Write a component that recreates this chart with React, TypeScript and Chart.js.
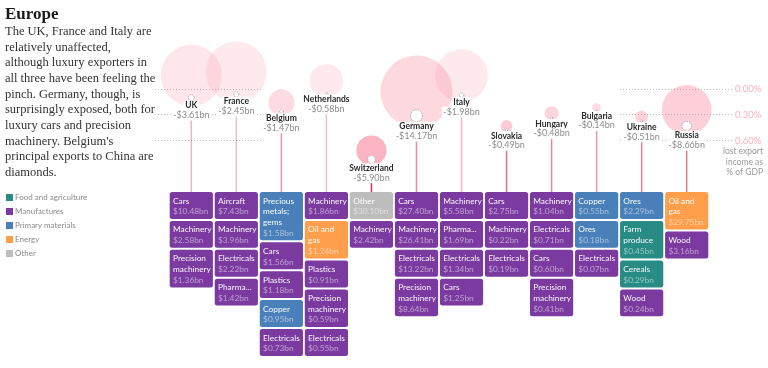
import React, { useEffect, useRef } from "react";
import { Chart, registerables } from "chart.js";

Chart.register(...registerables);

// ---------- data ----------
const countries = ["UK", "France", "Belgium", "Netherlands", "Switzerland", "Germany", "Italy", "Slovakia", "Hungary", "Bulgaria", "Ukraine", "Russia"];
const lostExportBn = [3.61, 2.45, 1.47, 0.58, 5.9, 14.17, 1.98, 0.49, 0.48, 0.14, 0.51, 8.66];
const lostPctOfGdp = [0.1, 0.06, 0.26, 0.05, 0.82, 0.31, 0.07, 0.475, 0.335, 0.25, 0.375, 0.43];
const gdpTn = [2.9, 2.85, 0.53, 0.88, 0.7, 4.0, 2.15, 0.11, 0.15, 0.06, 0.13, 1.9];
const pctTicks = [0, 0.3, 0.6];

const categories = ["Food and agriculture", "Manufactures", "Primary materials", "Energy", "Other"];
const categoryColors = ["#288b84", "#7b3aa0", "#4a80b9", "#ff9f4c", "#bdbdbd"];

const exportLabels = [
  ["Cars", "Machinery", "Precision machinery"],
  ["Aircraft", "Machinery", "Electricals", "Pharma..."],
  ["Precious metals; gems", "Cars", "Plastics", "Copper", "Electricals"],
  ["Machinery", "Oil and gas", "Plastics", "Precision machinery", "Electricals"],
  ["Other", "Machinery"],
  ["Cars", "Machinery", "Electricals", "Precision machinery"],
  ["Machinery", "Pharma...", "Electricals", "Cars"],
  ["Cars", "Machinery", "Electricals"],
  ["Machinery", "Electricals", "Cars", "Precision machinery"],
  ["Copper", "Ores", "Electricals"],
  ["Ores", "Farm produce", "Cereals", "Wood"],
  ["Oil and gas", "Wood"],
];
const exportValuesBn = [
  [10.48, 2.58, 1.36],
  [7.43, 3.96, 2.22, 1.42],
  [1.58, 1.56, 1.18, 0.95, 0.73],
  [1.86, 1.24, 0.91, 0.59, 0.55],
  [30.1, 2.42],
  [27.4, 26.41, 13.22, 8.64],
  [5.58, 1.69, 1.34, 1.25],
  [2.75, 0.22, 0.19],
  [1.04, 0.71, 0.6, 0.41],
  [0.55, 0.18, 0.07],
  [2.29, 0.45, 0.29, 0.24],
  [29.75, 3.16],
];
// index into categories
const exportTypes = [
  [1, 1, 1],
  [1, 1, 1, 1],
  [2, 1, 1, 2, 1],
  [1, 3, 1, 1, 1],
  [4, 1],
  [1, 1, 1, 1],
  [1, 1, 1, 1],
  [1, 1, 1],
  [1, 1, 1, 1],
  [2, 2, 1],
  [2, 0, 0, 1],
  [3, 1],
];

const introLines = [
  "The UK, France and Italy are",
  "relatively unaffected,",
  "although luxury exporters in",
  "all three have been feeling the",
  "pinch. Germany, though, is",
  "surprisingly exposed, both for",
  "luxury cars and precision",
  "machinery. Belgium's",
  "principal exports to China are",
  "diamonds.",
];
const axisCaption = ["lost export", "income as", "% of GDP"];

// ---------- layout / style ----------
const W = 768;
const H = 368;
const X_MIN = -0.806;
const X_MAX = 12.006;
const Y_MIN = -0.619;
const Y_MAX = 2.831;
const PX_PER_PCT = H / (Y_MAX - Y_MIN);
const TILE_TOP = 192;
const TILE_W = 43.2;
const TILE_GAP = 2;
const LINE_H = 10.7;
const FONT = "Lato";

const lossRadius = (bn: number) => 1.6 * Math.sqrt(bn);
const gdpRadius = (tn: number) => 18 * Math.sqrt(tn);
const bubbleFill = (p: number) => `rgba(248, 120, 145, ${Math.min(0.6, 0.13 + 0.52 * p)})`;
const stemColor = (p: number) => `rgba(220, 50, 85, ${Math.min(1, 0.28 + 0.9 * p)})`;

function wrap(ctx: CanvasRenderingContext2D, text: string, maxW: number) {
  const words = text.split(" ");
  const lines: string[] = [];
  let cur = "";
  for (const w of words) {
    const t = cur ? cur + " " + w : w;
    if (cur && ctx.measureText(t).width > maxW) {
      lines.push(cur);
      cur = w;
    } else cur = t;
  }
  if (cur) lines.push(cur);
  return lines;
}

function labelWithBg(ctx: CanvasRenderingContext2D, text: string, x: number, y: number) {
  const w = ctx.measureText(text).width;
  const fill = ctx.fillStyle;
  ctx.fillStyle = "#ffffff";
  ctx.fillRect(x - w / 2 - 1.5, y - 5, w + 3, 10);
  ctx.fillStyle = fill;
  ctx.fillText(text, x, y);
}

const overlayPlugin = {
  id: "overlay",
  beforeDatasetDraw(chart: any, args: any) {
    if (args.index === 0) chart.ctx.setLineDash([1.2, 1.2]);
  },
  afterDatasetDraw(chart: any, args: any) {
    if (args.index === 0) chart.ctx.setLineDash([]);
  },
  afterDatasetsDraw(chart: any) {
    const ctx: CanvasRenderingContext2D = chart.ctx;
    const xs = chart.scales.x;
    const ys = chart.scales.y;
    ctx.save();
    ctx.textAlign = "center";
    ctx.textBaseline = "middle";
    countries.forEach((name, i) => {
      const cx = xs.getPixelForValue(i);
      const cy = ys.getPixelForValue(lostPctOfGdp[i]);
      const r = lossRadius(lostExportBn[i]);
      const nameY = cy + r + 5;
      const valY = nameY + 9.3;
      ctx.textAlign = "center";
      ctx.font = `bold 8.5px ${FONT}`;
      ctx.fillStyle = "#2b2b2b";
      labelWithBg(ctx, name, cx, nameY);
      ctx.font = `9px ${FONT}`;
      ctx.fillStyle = "#8c8c8c";
      labelWithBg(ctx, `-$${lostExportBn[i].toFixed(2)}bn`, cx, valY);

      // stem
      ctx.strokeStyle = stemColor(lostPctOfGdp[i]);
      ctx.lineWidth = 1.5;
      ctx.beginPath();
      ctx.moveTo(cx, valY + 5.5);
      ctx.lineTo(cx, TILE_TOP + 2);
      ctx.stroke();

      // tiles
      let top = TILE_TOP;
      const left = cx - TILE_W / 2;
      exportLabels[i].forEach((lab, j) => {
        ctx.font = `8.3px ${FONT}`;
        const lines = wrap(ctx, lab, TILE_W - 6);
        const valueText = `$${exportValuesBn[i][j].toFixed(2)}bn`;
        const n = lines.length + 1;
        const h = 5.5 + LINE_H * n;
        ctx.fillStyle = categoryColors[exportTypes[i][j]];
        ctx.beginPath();
        ctx.roundRect(left, top, TILE_W, h, 2.5);
        ctx.fill();
        ctx.textAlign = "left";
        ctx.textBaseline = "alphabetic";
        ctx.fillStyle = "rgba(255,255,255,0.96)";
        lines.forEach((ln, k) => ctx.fillText(ln, left + 3.3, top + 11.5 + k * LINE_H));
        ctx.fillStyle = "rgba(255,255,255,0.5)";
        ctx.fillText(valueText, left + 3.3, top + 11.5 + lines.length * LINE_H);
        ctx.textBaseline = "middle";
        top += h + TILE_GAP;
      });
    });

    // axis caption
    ctx.textAlign = "right";
    ctx.textBaseline = "middle";
    ctx.font = `8.5px ${FONT}`;
    ctx.fillStyle = "#999999";
    const base = ys.getPixelForValue(pctTicks[pctTicks.length - 1]);
    axisCaption.forEach((t, k) => ctx.fillText(t, W - 5, base + 11 + k * 10.3));
    ctx.restore();
  },
};

export default function App() {
  const ref = useRef<HTMLCanvasElement | null>(null);

  useEffect(() => {
    if (!ref.current) return;
    const chart = new Chart(ref.current, {
      type: "bubble",
      data: {
        datasets: [
          {
            label: "Lost exports",
            data: countries.map((_, i) => ({ x: i, y: lostPctOfGdp[i], r: lossRadius(lostExportBn[i]) })),
            backgroundColor: "#ffffff",
            borderColor: "#a0a0a0",
            borderWidth: 1,
            clip: false,
          } as any,
          {
            label: "GDP",
            data: countries.map((_, i) => ({
              x: i,
              y: lostPctOfGdp[i] + (lossRadius(lostExportBn[i]) - gdpRadius(gdpTn[i])) / PX_PER_PCT,
              r: gdpRadius(gdpTn[i]),
            })),
            backgroundColor: countries.map((_, i) => bubbleFill(lostPctOfGdp[i])),
            borderWidth: 0,
            clip: false,
          } as any,
        ],
      },
      options: {
        responsive: false,
        animation: false,
        devicePixelRatio: 1,
        events: [],
        layout: { padding: { left: 155, right: 0, top: 0, bottom: 0 } },
        plugins: { legend: { display: false }, tooltip: { enabled: false } },
        scales: {
          x: { type: "linear", display: false, min: X_MIN, max: X_MAX },
          y: {
            type: "linear",
            position: "right",
            reverse: true,
            min: Y_MIN,
            max: Y_MAX,
            afterBuildTicks: (axis: any) => {
              axis.ticks = pctTicks.map((v) => ({ value: v }));
            },
            afterFit: (axis: any) => {
              axis.width = 33;
              axis.paddingTop = 0;
              axis.paddingBottom = 0;
            },
            ticks: {
              padding: 3,
              color: "#f8b4c0",
              font: { family: FONT, size: 9.5 },
              callback: (v: any) => Number(v).toFixed(2) + "%",
            },
            border: { display: false, dash: [1, 2] },
            grid: {
              drawTicks: false,
              lineWidth: 1,
              color: (c: any) => {
                const chart = c.chart;
                const area = chart.chartArea;
                const xs = chart.scales && chart.scales.x;
                if (!area || !xs) return "#cccccc";
                const g = chart.ctx.createLinearGradient(area.left, 0, area.right, 0);
                const w = area.right - area.left;
                const a = Math.min(1, Math.max(0, (xs.getPixelForValue(1.55) - area.left) / w));
                const b = Math.min(1, Math.max(0, (xs.getPixelForValue(9.45) - area.left) / w));
                g.addColorStop(0, "rgba(190,190,190,1)");
                g.addColorStop(a, "rgba(190,190,190,1)");
                g.addColorStop(Math.min(1, a + 0.005), "rgba(190,190,190,0)");
                g.addColorStop(b, "rgba(190,190,190,0)");
                g.addColorStop(Math.min(1, b + 0.005), "rgba(190,190,190,1)");
                g.addColorStop(1, "rgba(190,190,190,1)");
                return g;
              },
            },
          },
        },
      },
      plugins: [overlayPlugin],
    } as any);
    return () => chart.destroy();
  }, []);

  return (
    <div style={{ position: "absolute", left: 0, top: 0, width: W, height: H, background: "#fff", overflow: "hidden" }}>
      <canvas ref={ref} width={W} height={H} style={{ position: "absolute", left: 0, top: 0, width: W, height: H }} />
      <div style={{ position: "absolute", left: 5, top: 4, font: 'bold 17px "Liberation Serif"', lineHeight: "20px", color: "#1a1a1a" }}>
        Europe
      </div>
      <div style={{ position: "absolute", left: 5, top: 24, font: '12.5px "Liberation Serif"', lineHeight: "15.67px", color: "#333", whiteSpace: "nowrap" }}>
        {introLines.map((l, i) => (
          <div key={i}>{l}</div>
        ))}
      </div>
      {categories.map((c, i) => (
        <div
          key={c}
          style={{ position: "absolute", left: 6, top: 190.3 + i * 14, height: 14, display: "flex", alignItems: "center", font: `8px ${FONT}`, color: "#8a8a8a", whiteSpace: "nowrap" }}
        >
          <span style={{ display: "inline-block", width: 7, height: 7, background: categoryColors[i], marginRight: 2 }} />
          {c}
        </div>
      ))}
    </div>
  );
}
